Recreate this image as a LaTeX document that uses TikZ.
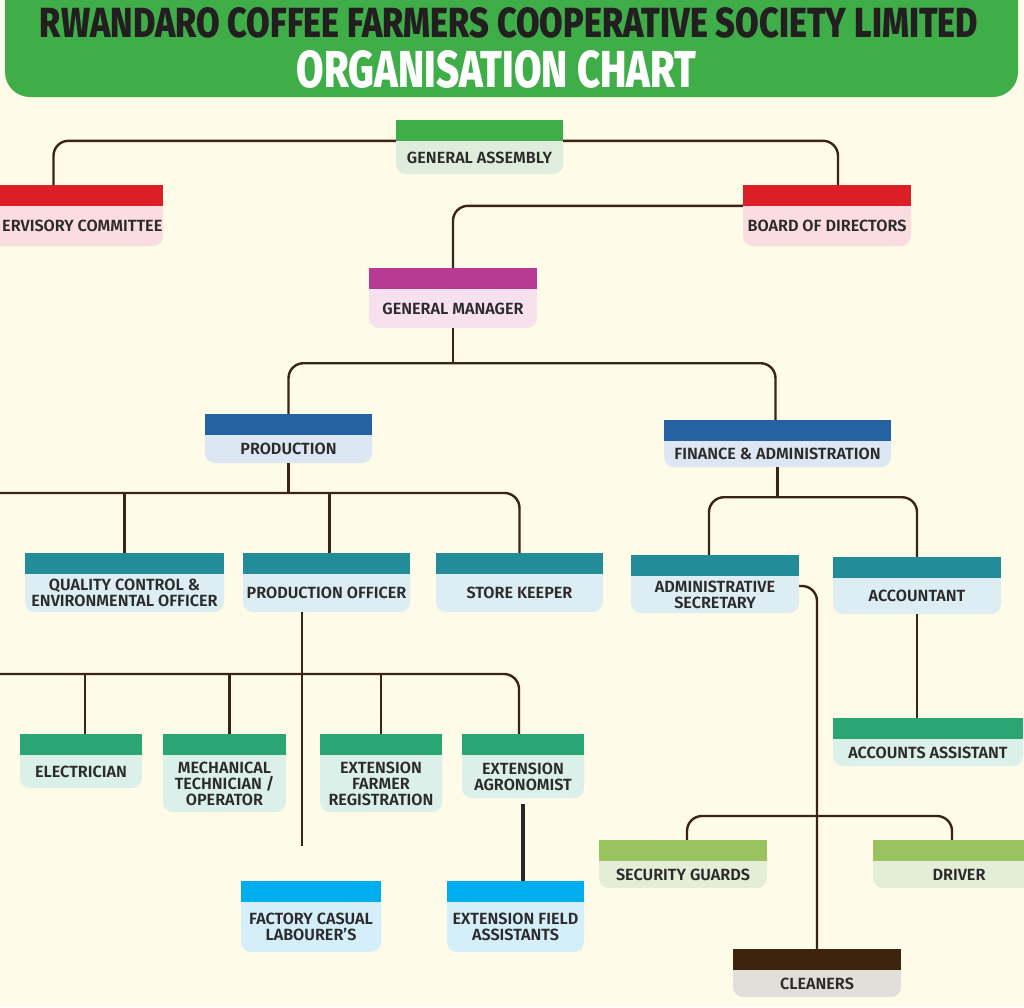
\documentclass[tikz,border=0pt]{standalone}
\usepackage{fontspec}
\setmainfont{Fira Sans}[BoldFont={Fira Sans SemiBold}]
\newfontfamily\titlefont{Fira Sans ExtraBold}
\usetikzlibrary{calc}

\definecolor{paper}{HTML}{FEFBE8}
\definecolor{banner}{HTML}{3FAE49}
\definecolor{linkbrown}{HTML}{3A2416}
\definecolor{inkdark}{HTML}{2B2B2B}
\definecolor{titleink}{HTML}{231F20}
\definecolor{greenhead}{HTML}{3FAE49}   \definecolor{greenbody}{HTML}{E0EDDC}
\definecolor{redhead}{HTML}{DC1F26}     \definecolor{redbody}{HTML}{FBDCE0}
\definecolor{magentahead}{HTML}{B83A92} \definecolor{magentabody}{HTML}{F7E1EE}
\definecolor{bluehead}{HTML}{2462A4}    \definecolor{bluebody}{HTML}{DCE7F3}
\definecolor{tealhead}{HTML}{228C99}    \definecolor{tealbody}{HTML}{DCEEF4}
\definecolor{emeraldhead}{HTML}{2AA574} \definecolor{emeraldbody}{HTML}{DCF0EA}
\definecolor{cyanhead}{HTML}{00AEEF}    \definecolor{cyanbody}{HTML}{D4EEFA}
\definecolor{limehead}{HTML}{98C35E}    \definecolor{limebody}{HTML}{E4EDD6}
\definecolor{brownhead}{HTML}{3C2410}   \definecolor{brownbody}{HTML}{E2DEDA}

\tikzstyle{unit}=[rectangle, rounded corners=10pt, inner sep=0pt]
\tikzstyle{unit text}=[inner sep=0pt, align=center, text=inkdark, font=\fontsize{16.2}{16}\selectfont\bfseries]
\tikzstyle{link}=[draw=linkbrown, line width=2.4pt, rounded corners=15pt]

% one box of the chart: name, left, top, right, bottom, colour, text
\newcommand{\orgunit}[7]{%
  \node[unit, fill=#6body, minimum width={((#4)-(#2))*1pt}, minimum height={((#5)-(#3))*1pt}]
    (#1) at ({((#2)+(#4))/2},{((#3)+(#5))/2}) {};
  \fill[#6head] (#1.north west) rectangle ([yshift=-21pt]#1.north east);
  \node[unit text] (#1t) at ([yshift=-10.5pt]#1.center) {#7};
}

\begin{document}
\begin{tikzpicture}[x=1pt, y=-1pt]
  \useasboundingbox (0,0) rectangle (1024,1007);
  \clip (0,0) rectangle (1024,1007);
  \fill[paper] (0,0) rectangle (1024,1007);

  % Title banner
  \fill[banner, rounded corners=25pt] (5,-40) rectangle (1018,97);
  \node[inner sep=0pt, anchor=north, text=titleink] (title) at (509,7)
    {\resizebox{938pt}{30pt}{\titlefont RWANDARO COFFEE FARMERS COOPERATIVE SOCIETY LIMITED}};
  \node[inner sep=0pt, anchor=north, text=white] (subtitle) at (496.5,50)
    {\resizebox{399pt}{37pt}{\titlefont ORGANISATION CHART}};

  % Governance
  \orgunit{ga}{396}{120}{563}{174}{green}{GENERAL ASSEMBLY}
  \orgunit{sup}{-40}{185}{163}{246}{red}{}
  \node[unit text, anchor=west] (supname) at (2,225.5) {ERVISORY COMMITTEE};
  \orgunit{bod}{743}{185}{911}{246}{red}{BOARD OF DIRECTORS}
  \orgunit{gm}{369}{268}{537}{328}{magenta}{GENERAL MANAGER}

  % Departments
  \orgunit{prod}{205}{414}{372}{463}{blue}{PRODUCTION}
  \orgunit{fin}{664}{420}{891}{467}{blue}{FINANCE \& ADMINISTRATION}

  \orgunit{qc}{25}{553}{224}{612}{teal}{QUALITY CONTROL \&\\ENVIRONMENTAL OFFICER}
  \orgunit{po}{243}{553}{410}{612}{teal}{PRODUCTION OFFICER}
  \orgunit{sk}{436}{553}{603}{612}{teal}{STORE KEEPER}
  \orgunit{adm}{631}{555}{799}{613}{teal}{ADMINISTRATIVE\\SECRETARY}
  \orgunit{acc}{833}{557}{1001}{614}{teal}{ACCOUNTANT}

  \orgunit{elec}{20}{734}{142}{788}{emerald}{ELECTRICIAN}
  \orgunit{mech}{163}{734}{286}{812}{emerald}{MECHANICAL\\TECHNICIAN /\\OPERATOR}
  \orgunit{efr}{320}{734}{442}{812}{emerald}{EXTENSION\\FARMER\\REGISTRATION}
  \orgunit{eag}{462}{734}{584}{798}{emerald}{EXTENSION\\AGRONOMIST}
  \orgunit{aas}{833}{718}{1023}{766}{emerald}{ACCOUNTS ASSISTANT}

  \orgunit{fcl}{241}{881}{381}{952}{cyan}{FACTORY CASUAL\\LABOURER’S}
  \orgunit{efa}{447}{881}{584}{952}{cyan}{EXTENSION FIELD\\ASSISTANTS}
  \orgunit{sec}{599}{840}{767}{888}{lime}{SECURITY GUARDS}
  \orgunit{drv}{873}{840}{1045}{888}{lime}{DRIVER}
  \orgunit{cln}{733}{949}{901}{997}{brown}{CLEANERS}

  % Connectors, top level
  \draw[link] ([yshift=-21pt]ga.north west) -| ([xshift=-8pt]sup.north);
  \draw[link] ([yshift=-21pt]ga.north east) -| ([xshift=11pt]bod.north);
  \draw[link] ([yshift=-21pt]bod.north west) -| (gm.north);
  \draw[link] (gm.south) -- ++(0,35) coordinate (gmj);
  \draw[link] (prod.north) |- (gmj) -| ([xshift=-2pt]fin.north);

  % Production
  \draw[link] (prod.south) -- ++(0,30) coordinate (pj);
  \coordinate (pl) at (-5,493);
  \draw[link] (pl) -| (sk.north);
  \draw[link] (qc.north) -- (qc.north |- pl);
  \draw[link] ([xshift=3pt]po.north) -- ([xshift=3pt]po.north |- pl);

  % Production officer
  \coordinate (pol) at (-5,674);
  \coordinate (poe) at (302,846);
  \draw[link] (po.south -| poe) -- (poe);
  \draw[link] (pol) -| ([xshift=-4pt]eag.north);
  \draw[link] ([xshift=4pt]elec.north) -- ([xshift=4pt]elec.north |- pol);
  \draw[link] ([xshift=5pt]mech.north) -- ([xshift=5pt]mech.north |- pol);
  \draw[link] (efr.north) -- (efr.north |- pol);
  \draw[link, line width=3.5pt, draw=black!85] ([yshift=-6pt]eag.south) -- (eag.south |- efa.north);

  % Finance
  \draw[link] (fin.south) -- ++(0,30) coordinate (fj);
  \draw[link] ([xshift=-6pt]adm.north) |- (fj) -| (acc.north);
  \draw[link] (acc.south) -- (acc.south |- aas.north);
  \draw[link] ([yshift=-2pt]adm.east) -| (cln.north);
  \coordinate (sj) at (cln.north |- 0,816);
  \draw[link] ([xshift=4pt]sec.north) |- (sj) -| ([xshift=-7pt]drv.north);
\end{tikzpicture}
\end{document}
